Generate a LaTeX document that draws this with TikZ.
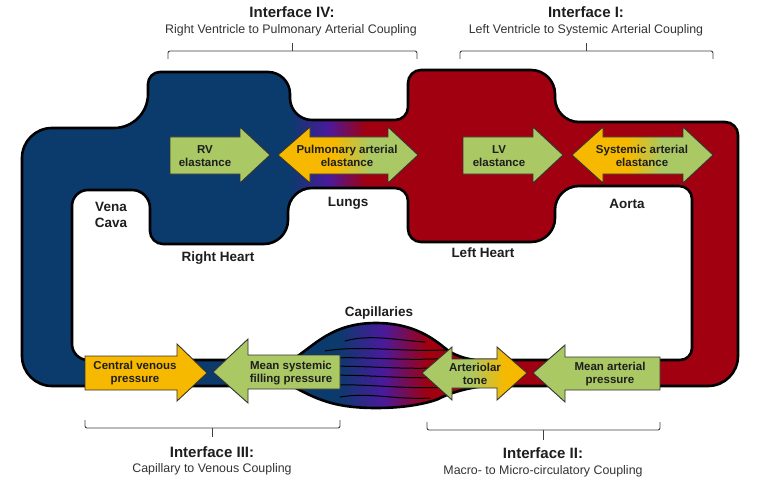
\documentclass[tikz,border=0pt]{standalone}
\usepackage{fontspec}
\setmainfont{Liberation Sans}
\definecolor{vblue}{HTML}{0B3A6D}
\definecolor{vred}{HTML}{A0000F}
\definecolor{vpurp}{HTML}{4A1A9C}
\definecolor{agreen}{HTML}{AAC864}
\definecolor{ayellow}{HTML}{F6B900}
\definecolor{txt}{HTML}{1E1E1E}
\tikzset{
  vessel/.style={draw=black, line width=2.6pt, line join=round},
  arrowbox/.style={draw=black!80, line width=0.9pt, line join=miter},
  albl/.style={font=\bfseries\fontsize{11.5}{13.5}\selectfont, text=txt, align=center, inner sep=0pt},
  place/.style={font=\bfseries\fontsize{13.5}{15.5}\selectfont, text=txt, align=center, inner sep=0pt},
  ititle/.style={font=\bfseries\fontsize{15}{17}\selectfont, text=txt, inner sep=0pt},
  isub/.style={font=\fontsize{12.4}{14}\selectfont, text=black!80, inner sep=0pt},
  brace/.style={draw=black!75, line width=0.9pt, rounded corners=2pt},
  capline/.style={draw=black, line width=1pt, line cap=round},
}
\def\OuterPath{(100,386) [rounded corners=30pt]
 -- (22,386) [rounded corners=30pt]
 -- (22,128) [rounded corners=34pt]
 -- (148,128) [rounded corners=12pt]
 -- (148,72) [rounded corners=22pt]
 -- (290,72) [rounded corners=22pt]
 -- (290,120) [rounded corners=13pt]
 -- (408,120) [rounded corners=13pt]
 -- (408,70) [rounded corners=24pt]
 -- (555,70) [rounded corners=24pt]
 -- (555,122) [rounded corners=13pt]
 -- (738,122) [rounded corners=30pt]
 -- (738,386) [rounded corners=28pt]
 -- (462,386) [sharp corners]
 .. controls (440,398) and (420,408) .. (376,408)
 .. controls (332,408) and (315,398) .. (292,386)
 -- cycle}
\def\InnerPath{(100,360) [rounded corners=16pt]
 -- (72,360) [rounded corners=16pt]
 -- (72,190) [rounded corners=18pt]
 -- (150,190) [rounded corners=13pt]
 -- (150,244) [rounded corners=24pt]
 -- (288,244) [rounded corners=24pt]
 -- (288,188) [rounded corners=13pt]
 -- (408,188) [rounded corners=13pt]
 -- (408,242) [rounded corners=24pt]
 -- (555,242) [rounded corners=24pt]
 -- (555,186) [rounded corners=13pt]
 -- (692,186) [rounded corners=12pt]
 -- (692,360) [rounded corners=16pt]
 -- (462,360) [sharp corners]
 .. controls (440,345) and (420,323) .. (376,323)
 .. controls (332,323) and (315,345) .. (292,360)
 -- cycle}
\begin{document}
\begin{tikzpicture}[x=1pt,y=-1pt]
\fill[white] (0,0) rectangle (763,492);
\useasboundingbox (0,0) rectangle (763,492);

% ---------- vessel fill ----------
\begin{scope}
  \clip \OuterPath;
  \fill[vblue] (0,0) rectangle (290,300);
  \shade[left color=vblue, right color=vred, middle color=vpurp] (290,0) rectangle (366,300);
  \fill[vred] (366,0) rectangle (763,300);
  \fill[vblue] (0,300) rectangle (338,492);
  \shade[left color=vblue, right color=vred, middle color=vpurp] (338,300) rectangle (428,492);
  \fill[vred] (428,300) rectangle (763,492);
\end{scope}
\fill[white] \InnerPath;
\path[vessel] \OuterPath;
\path[vessel] \InnerPath;

% ---------- capillaries ----------
\draw[capline] (345,341) .. controls (370,334) and (395,340) .. (425,342);
\draw[capline] (325,351) .. controls (360,345) and (400,352) .. (445,350);
\draw[capline] (318,359) .. controls (360,355) and (400,362) .. (452,358);
\draw[capline] (315,367) .. controls (360,364) and (400,371) .. (455,367);
\draw[capline] (318,376) .. controls (360,373) and (400,380) .. (452,377);
\draw[capline] (322,386) .. controls (360,382) and (400,390) .. (448,387);
\draw[capline] (340,397) .. controls (370,392) and (395,400) .. (430,398);

% ---------- top arrows ----------
% RV elastance
\path[arrowbox, fill=agreen] (170,137) -- (240,137) -- (240,127) -- (270,155) -- (240,183) -- (240,174) -- (170,174) -- cycle;
% Pulmonary arterial elastance
\def\PulmPath{(278,155) -- (310,127) -- (310,137) -- (388,137) -- (388,127) -- (418,155) -- (388,183) -- (388,174) -- (310,174) -- (310,183) -- cycle}
\begin{scope}
  \clip \PulmPath;
  \fill[ayellow] (270,120) rectangle (335,190);
  \shade[left color=ayellow, right color=agreen] (335,120) rectangle (370,190);
  \fill[agreen] (370,120) rectangle (420,190);
\end{scope}
\path[arrowbox] \PulmPath;
% LV elastance
\path[arrowbox, fill=agreen] (463,137) -- (533,137) -- (533,127) -- (563,155) -- (533,183) -- (533,174) -- (463,174) -- cycle;
% Systemic arterial elastance
\def\SysPath{(572,155) -- (603,127) -- (603,137) -- (683,137) -- (683,127) -- (713,155) -- (683,183) -- (683,174) -- (603,174) -- (603,183) -- cycle}
\begin{scope}
  \clip \SysPath;
  \fill[ayellow] (565,120) rectangle (628,190);
  \shade[left color=ayellow, right color=agreen] (628,120) rectangle (662,190);
  \fill[agreen] (662,120) rectangle (720,190);
\end{scope}
\path[arrowbox] \SysPath;

% ---------- bottom arrows ----------
% Central venous pressure
\path[arrowbox, fill=ayellow] (85,356) -- (177,356) -- (177,344) -- (207,373) -- (177,401) -- (177,390) -- (85,390) -- cycle;
% Mean systemic filling pressure
\path[arrowbox, fill=agreen] (340,355) -- (248,355) -- (248,339) -- (213,372) -- (248,403) -- (248,389) -- (340,389) -- cycle;
% Arteriolar tone
\def\ArtPath{(422,373) -- (452,347) -- (452,359) -- (497,359) -- (497,347) -- (527,373) -- (497,400) -- (497,388) -- (452,388) -- (452,400) -- cycle}
\begin{scope}
  \clip \ArtPath;
  \fill[agreen] (415,340) rectangle (470,405);
  \shade[left color=agreen, right color=ayellow] (470,340) rectangle (505,405);
  \fill[ayellow] (505,340) rectangle (530,405);
\end{scope}
\path[arrowbox] \ArtPath;
% Mean arterial pressure
\path[arrowbox, fill=agreen] (660,357) -- (565,357) -- (565,345) -- (533,373) -- (565,402) -- (565,390) -- (660,390) -- cycle;

% ---------- arrow labels ----------
\node[albl] (rv)   at (205,156) {RV\\elastance};
\node[albl] (pa)   at (347,156) {Pulmonary arterial\\elastance};
\node[albl] (lv)   at (499,156) {LV\\elastance};
\node[albl] (sa)   at (642,156) {Systemic arterial\\elastance};
\node[albl] (cvp)  at (135,373) {Central venous\\pressure};
\node[albl] (msfp) at (291,373) {Mean systemic\\filling pressure};
\node[albl] (at)   at (475,374) {Arteriolar\\tone};
\node[albl] (map)  at (610,374) {Mean arterial\\pressure};

% ---------- place labels ----------
\node[place] (vc)   at (111,215) {Vena\\Cava};
\node[place] (rh)   at (218,258) {Right Heart};
\node[place] (lung) at (348,203) {Lungs};
\node[place] (lh)   at (483,253) {Left Heart};
\node[place] (ao)   at (627,204) {Aorta};
\node[place] (cap)  at (379,313) {Capillaries};

% ---------- interfaces ----------
\node[ititle] (i4t) at (292,12) {Interface IV:};
\node[isub]   (i4s) at (291,30) {Right Ventricle to Pulmonary Arterial Coupling};
\draw[brace] (168,59) -- (168,51) -- (417,51) -- (417,59);
\draw[brace] (292,51) -- (292,43);

\node[ititle] (i1t) at (586,12) {Interface I:};
\node[isub]   (i1s) at (586,30) {Left Ventricle to Systemic Arterial Coupling};
\draw[brace] (460,59) -- (460,51) -- (713,51) -- (713,59);
\draw[brace] (586,51) -- (586,43);

\node[ititle] (i3t) at (212,452) {Interface III:};
\node[isub]   (i3s) at (212,469) {Capillary to Venous Coupling};
\draw[brace] (85,420) -- (85,428) -- (340,428) -- (340,420);
\draw[brace] (212,428) -- (212,437);

\node[ititle] (i2t) at (543,453) {Interface II:};
\node[isub]   (i2s) at (543,471) {Macro- to Micro-circulatory Coupling};
\draw[brace] (427,422) -- (427,430) -- (660,430) -- (660,422);
\draw[brace] (543,430) -- (543,440);
\end{tikzpicture}
\end{document}
